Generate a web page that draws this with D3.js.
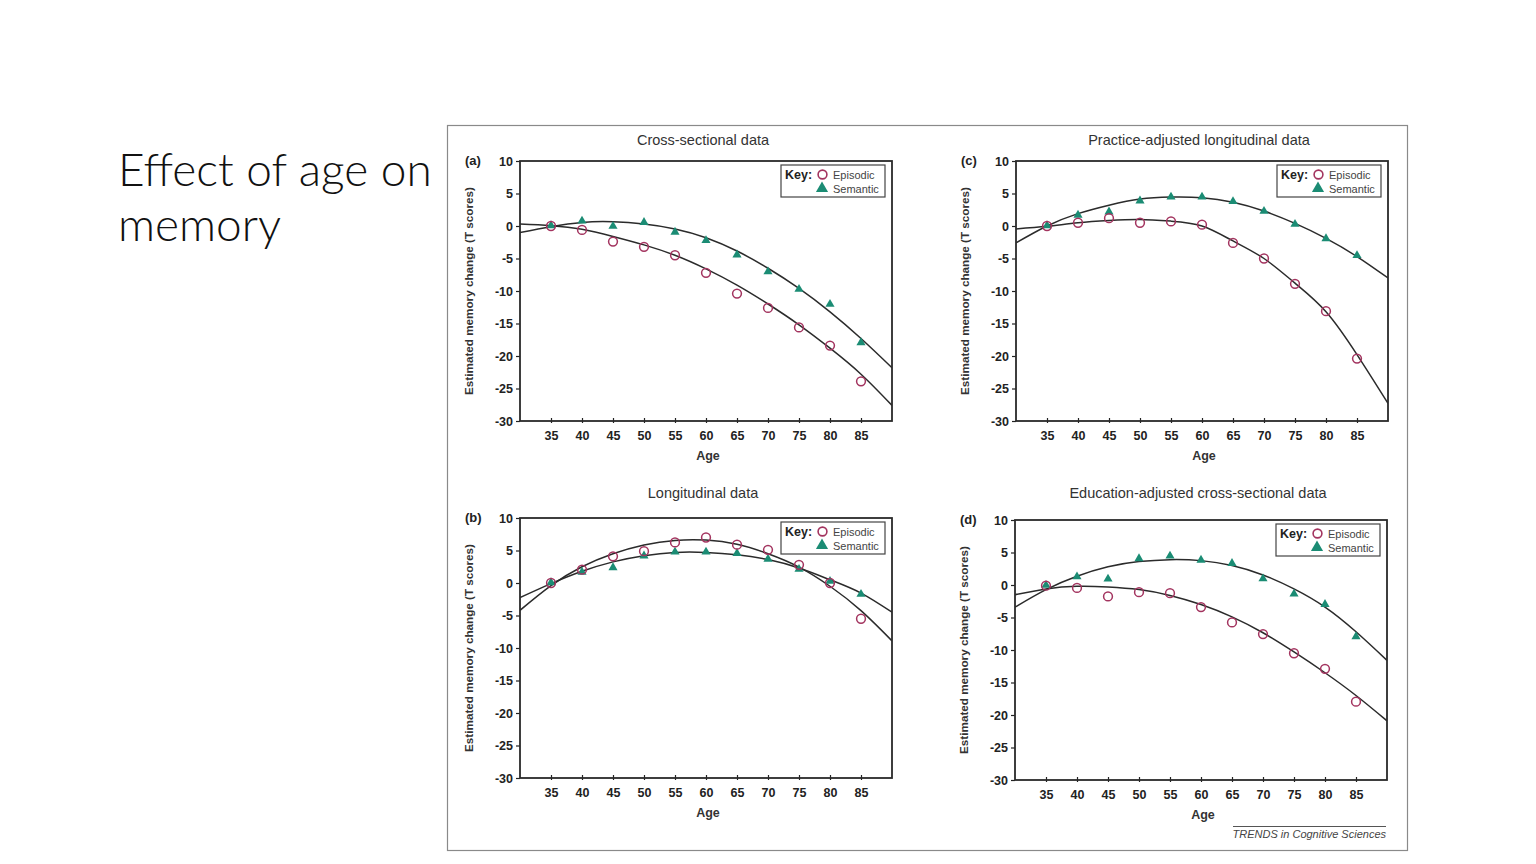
<!DOCTYPE html>
<html><head><meta charset="utf-8">
<script src="https://cdn.jsdelivr.net/npm/d3@7"></script>
<style>
html,body{margin:0;padding:0;background:#fff;}
svg{display:block;}
</style></head>
<body>
<svg id="chart" width="1536" height="864"></svg>
<script>
// ---------- DATA ----------
const slideTitle = ["Effect of age on", "memory"];
const ages = [35, 40, 45, 50, 55, 60, 65, 70, 75, 80, 85];
const fitAges = [30, 35, 40, 45, 50, 55, 60, 65, 70, 75, 80, 85, 90];
const yTicks = [10, 5, 0, -5, -10, -15, -20, -25, -30];
const seriesNames = ["Episodic", "Semantic"];

const panelTitles = ["Cross-sectional data", "Practice-adjusted longitudinal data", "Longitudinal data", "Education-adjusted cross-sectional data"];
const panelLetters = ["(a)", "(c)", "(b)", "(d)"];

// (a) Cross-sectional
const aEpisodic = [0, -0.6, -2.4, -3.2, -4.5, -7.2, -10.4, -12.6, -15.6, -18.4, -23.9];
const aSemantic = [0, 0.7, -0.1, 0.5, -1.0, -2.3, -4.5, -7.1, -9.8, -12.1, -18.0];
const aEpisodicFit = [0.3, 0.05, -0.5, -1.6, -2.9, -4.5, -6.6, -9.1, -12.0, -15.2, -18.8, -22.8, -27.6];
const aSemanticFit = [-1.0, -0.1, 0.55, 0.65, 0.3, -0.45, -1.8, -3.85, -6.5, -9.6, -13.2, -17.3, -21.8];

// (c) Practice-adjusted longitudinal
const cEpisodic = [0, 0.5, 1.2, 0.5, 0.7, 0.2, -2.6, -5.0, -8.9, -13.1, -20.4];
const cSemantic = [0, 1.6, 2.1, 3.8, 4.4, 4.4, 3.7, 2.2, 0.2, -2.0, -4.6];
const cEpisodicFit = [-0.45, -0.05, 0.5, 0.85, 1.0, 0.75, 0.0, -2.3, -5.0, -8.8, -13.2, -19.8, -27.3];
const cSemanticFit = [-2.6, 0.0, 1.9, 3.2, 4.15, 4.45, 4.35, 3.65, 2.3, 0.4, -1.9, -4.7, -8.0];

// (b) Longitudinal
const bEpisodic = [0, 2.05, 4.1, 4.9, 6.25, 7.0, 5.9, 5.1, 2.8, 0, -5.5];
const bSemantic = [0, 1.6, 2.3, 4.1, 4.7, 4.7, 4.5, 3.6, 2.05, 0.2, -1.8];
const bEpisodicFit = [-4.2, -0.4, 2.5, 4.5, 5.85, 6.55, 6.6, 5.95, 4.5, 2.45, -0.5, -4.25, -8.9];
const bSemanticFit = [-2.25, -0.1, 1.8, 3.25, 4.2, 4.7, 4.7, 4.35, 3.6, 2.3, 0.5, -1.55, -4.5];

// (d) Education-adjusted cross-sectional
const dEpisodic = [-0.1, -0.45, -1.75, -1.1, -1.25, -3.4, -5.75, -7.55, -10.5, -12.9, -17.95];
const dSemantic = [-0.1, 1.2, 0.85, 4.0, 4.4, 3.75, 3.25, 0.9, -1.45, -3.05, -8.0];
const dEpisodicFit = [-1.5, -0.6, -0.2, -0.3, -0.7, -1.6, -3.0, -4.9, -7.35, -10.3, -13.5, -17.0, -20.9];
const dSemanticFit = [-3.4, -0.7, 1.35, 2.8, 3.6, 3.9, 3.75, 3.0, 1.55, -0.6, -3.4, -7.2, -11.6];

const footerText = "TRENDS in Cognitive Sciences";

// ---------- LAYOUT ----------
const panels = [
  {title: panelTitles[0], letter: panelLetters[0], ep: aEpisodic, se: aSemantic, epFit: aEpisodicFit, seFit: aSemanticFit, box: {l: 520, t: 161, r: 892, b: 421}, ty: 145},
  {title: panelTitles[1], letter: panelLetters[1], ep: cEpisodic, se: cSemantic, epFit: cEpisodicFit, seFit: cSemanticFit, box: {l: 1016, t: 161, r: 1388, b: 421}, ty: 145},
  {title: panelTitles[2], letter: panelLetters[2], ep: bEpisodic, se: bSemantic, epFit: bEpisodicFit, seFit: bSemanticFit, box: {l: 520, t: 518, r: 892, b: 778}, ty: 498},
  {title: panelTitles[3], letter: panelLetters[3], ep: dEpisodic, se: dSemantic, epFit: dEpisodicFit, seFit: dSemanticFit, box: {l: 1015, t: 520, r: 1387, b: 780}, ty: 498}
];

const epColor = "#a3345f";
const seColor = "#1b8c74";
const font = "'Liberation Sans', Arial, Helvetica, sans-serif";

const svg = d3.select("#chart");

// slide title
const st = svg.append("g").attr("font-family", "Lato, 'Open Sans', sans-serif").attr("font-weight", 300).attr("font-size", 46).attr("fill", "#111");
slideTitle.forEach((t, i) => {
  st.append("text").attr("x", 118).attr("y", 186 + i * 55).text(t);
});

// outer frame
svg.append("rect").attr("x", 447.5).attr("y", 125.5).attr("width", 960).attr("height", 725)
  .attr("fill", "none").attr("stroke", "#8a8a8a").attr("stroke-width", 1.2);

const triangle = d3.symbol().type(d3.symbolTriangle).size(36);
const fmt = d => String(d);

panels.forEach((p, pi) => {
  const B = p.box;
  const x = d3.scaleLinear().domain([30, 90]).range([B.l, B.r]);
  const y = d3.scaleLinear().domain([-30, 10]).range([B.b, B.t]);
  const g = svg.append("g").attr("font-family", font);
  const cx = (B.l + B.r) / 2;

  // title
  g.append("text").attr("x", cx - 3).attr("y", p.ty).attr("text-anchor", "middle")
    .attr("font-size", 14.5).attr("fill", "#333").text(p.title);
  // panel letter
  g.append("text").attr("x", B.l - 55).attr("y", B.t + 4).attr("font-size", 13).attr("font-weight", "bold")
    .attr("fill", "#222").text(p.letter);

  const clipId = "clip" + pi;
  svg.append("clipPath").attr("id", clipId).append("rect")
    .attr("x", B.l).attr("y", B.t).attr("width", B.r - B.l).attr("height", B.b - B.t);

  // axes
  const yAxis = d3.axisLeft(y).tickValues(yTicks).tickSize(4).tickPadding(3).tickFormat(fmt);
  const ya = g.append("g").attr("transform", `translate(${B.l},0)`).call(yAxis);
  const xAxis = d3.axisBottom(x).tickValues(ages).tickSize(4).tickPadding(6).tickFormat(fmt);
  const xa = g.append("g").attr("transform", `translate(0,${B.b})`).call(xAxis);
  [ya, xa].forEach(a => {
    a.select(".domain").remove();
    a.selectAll("text").attr("font-size", 12.5).attr("font-weight", "bold").attr("fill", "#222").attr("font-family", font);
    a.selectAll("line").attr("stroke", "#222").attr("stroke-width", 1.2);
  });
  xa.selectAll("line").attr("y1", -3).attr("y2", 2);

  // plot frame
  g.append("rect").attr("x", B.l).attr("y", B.t).attr("width", B.r - B.l).attr("height", B.b - B.t)
    .attr("fill", "none").attr("stroke", "#2a2a2a").attr("stroke-width", 1.8);

  // axis labels
  g.append("text").attr("x", cx + 2).attr("y", B.b + 39).attr("text-anchor", "middle")
    .attr("font-size", 12.5).attr("font-weight", "bold").attr("fill", "#333").text("Age");
  g.append("text").attr("transform", `translate(${B.l - 47},${(B.t + B.b) / 2}) rotate(-90)`)
    .attr("text-anchor", "middle").attr("font-size", 11.7).attr("font-weight", "bold").attr("fill", "#333")
    .text("Estimated memory change (T scores)");

  // fitted curves
  const line = d3.line().x((d, i) => x(fitAges[i])).y(d => y(d)).curve(d3.curveNatural);
  const cg = g.append("g").attr("clip-path", `url(#${clipId})`);
  [p.epFit, p.seFit].forEach(f => {
    cg.append("path").attr("d", line(f)).attr("fill", "none").attr("stroke", "#2b2b2b").attr("stroke-width", 1.5);
  });

  // points
  g.append("g").selectAll("path").data(p.se).join("path")
    .attr("transform", (d, i) => `translate(${x(ages[i])},${y(d) - 0.5})`)
    .attr("d", triangle).attr("fill", seColor);
  g.append("g").selectAll("circle").data(p.ep).join("circle")
    .attr("cx", (d, i) => x(ages[i])).attr("cy", d => y(d)).attr("r", 4.4)
    .attr("fill", "none").attr("stroke", epColor).attr("stroke-width", 1.5);

  // legend
  const lw = 104, lh = 32;
  const lx = B.r - 7 - lw, ly = B.t + 4;
  const lg = g.append("g").attr("transform", `translate(${lx},${ly})`);
  lg.append("rect").attr("width", lw).attr("height", lh).attr("fill", "#fff").attr("stroke", "#444").attr("stroke-width", 1.2);
  lg.append("text").attr("x", 4).attr("y", 13.5).attr("font-size", 12.5).attr("font-weight", "bold").attr("fill", "#222").text("Key:");
  lg.append("circle").attr("cx", 41.5).attr("cy", 9.5).attr("r", 4.4).attr("fill", "none").attr("stroke", epColor).attr("stroke-width", 1.6);
  lg.append("path").attr("transform", "translate(41,23.5)").attr("d", d3.symbol().type(d3.symbolTriangle).size(64)).attr("fill", seColor);
  lg.append("text").attr("x", 52).attr("y", 13.5).attr("font-size", 11).attr("fill", "#444").text(seriesNames[0]);
  lg.append("text").attr("x", 52).attr("y", 28).attr("font-size", 11).attr("fill", "#444").text(seriesNames[1]);
});

// footer
svg.append("line").attr("x1", 1233).attr("x2", 1386).attr("y1", 826.5).attr("y2", 826.5).attr("stroke", "#555").attr("stroke-width", 1);
svg.append("text").attr("x", 1386).attr("y", 838).attr("text-anchor", "end").attr("font-family", font)
  .attr("font-style", "italic").attr("font-size", 11).attr("fill", "#444").text(footerText);
</script>
</body></html>
